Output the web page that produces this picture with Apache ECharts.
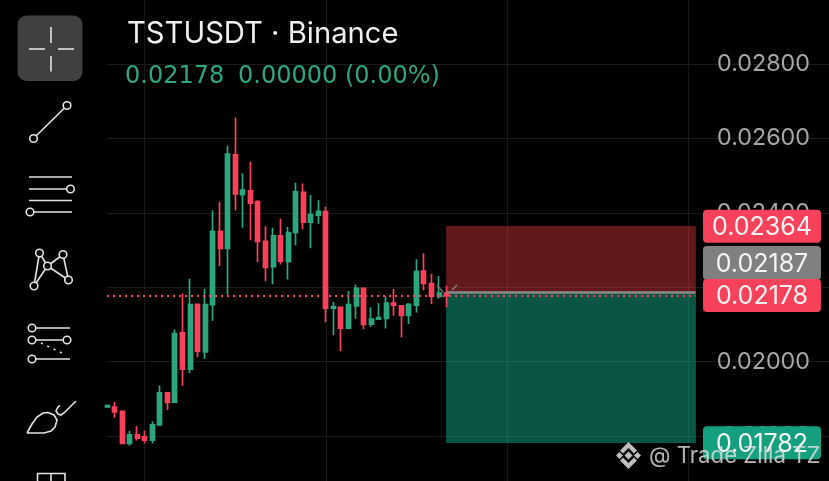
<!DOCTYPE html>
<html><head><meta charset="utf-8">
<style>html,body{margin:0;padding:0;background:#000}#c{width:829px;height:481px}</style>
<script src="https://cdn.jsdelivr.net/npm/echarts@6/dist/echarts.min.js"></script>
</head><body><div id="c"></div>
<script>
const opens  = [.01878,.01878,.01866,.01780,.01803,.01798,.01789,.01830,.01916,.01891,.02077,.01980,.02154,.02026,.02153,.02350,.02304,.02556,.02449,.02459,.02430,.02323,.02255,.02338,.02269,.02347,.02455,.02375,.02394,.02403,.02144,.02146,.02090,.02150,.02197,.02101,.02114,.02116,.02157,.02150,.02124,.02152,.02243,.02210,.02175,.02184];
const closes = [.01882,.01865,.01780,.01803,.01794,.01789,.01830,.01916,.01890,.02075,.01980,.02153,.02028,.02153,.02350,.02304,.02558,.02451,.02461,.02426,.02323,.02253,.02338,.02270,.02347,.02456,.02375,.02395,.02404,.02144,.02148,.02090,.02153,.02197,.02100,.02114,.02118,.02157,.02152,.02124,.02154,.02242,.02210,.02175,.02184,.02178];
const lows   = [.01878,.01849,.01778,.01774,.01788,.01780,.01780,.01828,.01870,.01890,.01935,.01969,.02012,.02007,.02110,.02257,.02180,.02406,.02360,.02326,.02268,.02217,.02208,.02261,.02221,.02312,.02356,.02305,.02370,.02106,.02071,.02028,.02087,.02115,.02087,.02094,.02112,.02089,.02123,.02065,.02101,.02132,.02192,.02155,.02169,.02146];
const highs  = [.01882,.01892,.01866,.01814,.01827,.01814,.01839,.01936,.01917,.02086,.02183,.02223,.02154,.02195,.02406,.02430,.02580,.02656,.02506,.02537,.02434,.02364,.02360,.02384,.02362,.02481,.02479,.02448,.02434,.02416,.02160,.02146,.02190,.02207,.02198,.02146,.02157,.02176,.02195,.02150,.02157,.02275,.02291,.02236,.02230,.02204];
const categories = Array.from({length:97},(_,i)=>String(i));
const lastPrice=.02178, entry=.02187, stopLoss=.02364, takeProfit=.01782;
const toolStart=45, toolEnd=78, labelSlot=87, gridEvery=24, gridFirst=5;
const yTicks={min:.016,max:.030,interval:.002};
const title="TSTUSDT · Binance", quote="0.02178", change="0.00000 (0.00%)", mark="@ Trade Zilla TZ";

const RED="#f8415a", GREEN="#2ca67d", FONT="Inter, 'Noto Sans', sans-serif";
const ICON="#e2e2e2";
const line=(x1,y1,x2,y2,extra)=>({type:'line',shape:{x1,y1,x2,y2},style:Object.assign({stroke:ICON,lineWidth:1.6},extra||{}),z:50});
const dot=(cx,cy,r)=>({type:'circle',shape:{cx,cy,r:r||3.8},style:{stroke:ICON,fill:'#000',lineWidth:1.6},z:51});
const poly=(points)=>({type:'polyline',shape:{points},style:{stroke:ICON,fill:null,lineWidth:1.6},z:50});
const gon=(points)=>({type:'polygon',shape:{points},style:{fill:'rgba(225,225,225,.85)'},z:60});
const toolbar=[
 {type:'rect',shape:{x:17.5,y:15.5,width:65,height:65.5,r:9},style:{fill:'#404040'},z:49},
 line(51,27,51,43),line(51,56,51,71.5),line(29,49,45,49),line(58,49,74,49),
 line(33.5,138.5,67,105.5),dot(33.5,138.5),dot(67,105.5),
 line(29,177,72,177),line(29,189,67,189),dot(70.5,189),line(29,200.5,72,200.5),line(34,212,72,212),dot(30,212),
 line(39.5,253,34,286),line(39.5,253,47.5,266),line(47.5,266,34,286),line(47.5,266,63,254.5),line(47.5,266,68.5,280),line(63,254.5,68.5,280),
 dot(39.5,253),dot(63,254.5),dot(47.5,266),dot(68.5,280),dot(34,286),
 line(32,328,70,328),dot(32,328),line(32,340,67,340),dot(32,340),dot(67,340),
 line(41,343,66,355,{lineDash:[2,5]}),line(32,359,70,359),dot(32,359),
 poly([[27,433],[44,433],[51,431],[55,427],[57,420],[54,415],[48,412.5],[43,413],[37,417],[32,424],[27,433]]),
 poly([[76,401],[64,413],[61,415],[58,414],[56,411],[58,407],[60,405.5]]),
 poly([[37.5,485],[37.5,473.5],[65,473.5],[65,485]]),line(51,473.5,51,485)
];
const marks=[
 line(437,285,443,292,{stroke:'#777',lineWidth:1.2}),line(452,290,457,285,{stroke:'#888',lineWidth:1.2})
];
const logo=[
 gon([[628.5,442],[637,450.5],[634,453.5],[628.5,448],[623,453.5],[620,450.5]]),
 gon([[628.5,469],[637,460.5],[634,457.5],[628.5,463],[623,457.5],[620,460.5]]),
 gon([[628.5,451.5],[632.5,455.5],[628.5,459.5],[624.5,455.5]]),
 gon([[619.5,452],[623,455.5],[619.5,459],[616,455.5]]),
 gon([[637.5,452],[641,455.5],[637.5,459],[634,455.5]])
];
const texts=[
 {type:'text',x:127,y:34,style:{text:title,fill:'#efefef',font:'400 29.2px '+FONT,verticalAlign:'middle'},z:55},
 {type:'text',x:125,y:77,style:{text:quote,fill:GREEN,font:"400 24px 'DejaVu Sans'",verticalAlign:'middle'},z:55},
 {type:'text',x:238,y:77,style:{text:change,fill:GREEN,font:"400 24px 'DejaVu Sans'",verticalAlign:'middle'},z:55},
 {type:'text',x:649,y:456,style:{text:mark,fill:'rgba(225,225,225,.8)',font:'400 22.2px '+FONT,verticalAlign:'middle'},z:60}
];
const TAG='path://M4 0H114Q118 0 118 4V29Q118 33 114 33H4Q0 33 0 29V4Q0 0 4 0Z';
const tag=(value,color,off)=>({coord:[labelSlot,value],value:value.toFixed(5),symbol:TAG,symbolKeepAspect:false,symbolSize:[118,off?34:33],symbolOffset:[-1.5,off||0],
  itemStyle:{color},label:{show:true,position:'inside',offset:[0,1.5],formatter:'{c}',color:'#f4f4f4',fontFamily:FONT,fontSize:25}});

const chart=echarts.init(document.getElementById('c'),null,{renderer:'canvas'});
chart.setOption({
 animation:false,backgroundColor:'#000',
 grid:{left:107,right:-2.4,top:-10.4,bottom:-29.4,outerBoundsMode:'none'},
 xAxis:{type:'category',data:categories,boundaryGap:false,axisLine:{show:false},axisTick:{show:false},axisLabel:{show:false},
  splitLine:{show:true,interval:(i)=>i>=gridFirst&&(i-gridFirst)%gridEvery===0,lineStyle:{color:'#181818',width:1}}},
 yAxis:{type:'value',position:'right',scale:false,min:yTicks.min,max:yTicks.max,interval:yTicks.interval,axisLine:{show:false},axisTick:{show:false},
  splitLine:{show:true,lineStyle:{color:'#1b1b1b',width:1}},
  axisLabel:{inside:true,margin:21.4,color:'#a6a6a6',fontFamily:FONT,fontSize:23.3,padding:[2,0,0,0],formatter:v=>v.toFixed(5)}},
 series:[{
  type:'candlestick',barWidth:4.5,
  data:opens.map((o,i)=>[o,closes[i],lows[i],highs[i]]),
  itemStyle:{color:GREEN,color0:RED,borderColor:GREEN,borderColor0:RED,borderWidth:1.7},
  markArea:{silent:true,data:[
   [{coord:[toolStart,stopLoss],itemStyle:{color:'rgba(248,60,70,.4)',borderColor:'rgba(248,65,90,.15)',borderWidth:1}},{coord:[toolEnd,entry]}],
   [{coord:[toolStart,entry],itemStyle:{color:'rgba(20,220,180,.39)',borderColor:'rgba(20,220,180,.2)',borderWidth:1}},{coord:[toolEnd,takeProfit]}]
  ]},
  markLine:{silent:true,symbol:'none',label:{show:false},data:[
   [{coord:[toolStart,entry],lineStyle:{color:'#8a8a8a',type:'solid',width:2.5}},{coord:[toolEnd,entry]}],
   [{coord:[0,lastPrice],lineStyle:{color:RED,type:[2,4],width:1.9}},{coord:[toolEnd,lastPrice]}]
  ]},
  markPoint:{silent:true,data:[tag(stopLoss,RED),tag(entry,'#808080',-29),tag(lastPrice,RED),tag(takeProfit,'#14a07f')]}
 }],
 graphic:{elements:[...toolbar,...marks,...logo,...texts]}
});
</script></body></html>
